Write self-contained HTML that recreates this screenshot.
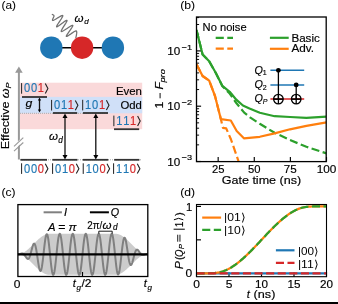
<!DOCTYPE html><html><head><meta charset="utf-8"><style>html,body{margin:0;padding:0;background:#fff;overflow:hidden}svg{display:block}</style></head><body><svg width="338" height="304" viewBox="0 0 338 304" font-family="Liberation Sans, sans-serif" style="will-change:transform">
<style>text{stroke-width:0.16px}</style>
<rect x="0" y="0" width="338" height="304" fill="#fff"/>
<rect x="0" y="302" width="338" height="2" fill="#000"/>
<text x="1.5" y="8.6" font-size="10.8" text-anchor="start" fill="#000" stroke="#000" textLength="14.5" lengthAdjust="spacingAndGlyphs" style=";stroke-width:0.05px" >(a)</text>
<path d="M51.90,14.30 L52.01,14.37 L52.17,14.44 L52.35,14.52 L52.56,14.60 L52.79,14.70 L53.02,14.81 L53.25,14.94 L53.46,15.09 L53.65,15.25 L53.81,15.44 L53.93,15.66 L54.00,15.90 L53.99,16.21 L53.87,16.60 L53.69,17.06 L53.46,17.56 L53.21,18.09 L52.96,18.61 L52.74,19.10 L52.57,19.56 L52.48,19.95 L52.48,20.25 L52.62,20.44 L52.90,20.50 L53.39,20.37 L54.10,20.05 L54.98,19.57 L55.98,18.97 L57.06,18.32 L58.17,17.64 L59.26,16.98 L60.29,16.39 L61.20,15.92 L61.95,15.59 L62.50,15.47 L62.80,15.60 L62.79,16.03 L62.51,16.74 L61.99,17.68 L61.31,18.80 L60.52,20.02 L59.67,21.30 L58.82,22.57 L58.03,23.78 L57.36,24.87 L56.86,25.77 L56.59,26.44 L56.60,26.80 L56.94,26.82 L57.56,26.54 L58.41,26.00 L59.43,25.29 L60.57,24.45 L61.77,23.55 L62.97,22.65 L64.11,21.81 L65.14,21.10 L66.01,20.56 L66.64,20.28 L67.00,20.30 L67.03,20.67 L66.78,21.34 L66.30,22.26 L65.66,23.37 L64.90,24.59 L64.08,25.88 L63.27,27.17 L62.52,28.40 L61.89,29.51 L61.44,30.44 L61.22,31.12 L61.30,31.50 L61.71,31.54 L62.43,31.27 L63.39,30.77 L64.53,30.08 L65.78,29.27 L67.10,28.41 L68.41,27.54 L69.66,26.73 L70.79,26.04 L71.73,25.53 L72.42,25.27 L72.80,25.30 L72.84,25.67 L72.57,26.34 L72.06,27.25 L71.36,28.33 L70.54,29.54 L69.66,30.81 L68.76,32.08 L67.93,33.29 L67.20,34.39 L66.65,35.31 L66.33,36.00 L66.30,36.40 L66.58,36.48 L67.11,36.30 L67.84,35.89 L68.73,35.32 L69.74,34.64 L70.81,33.89 L71.91,33.12 L72.98,32.40 L73.98,31.76 L74.86,31.27 L75.59,30.96 L76.10,30.90 L76.43,31.08 L76.63,31.46 L76.73,32.00 L76.74,32.66 L76.68,33.40 L76.56,34.21 L76.42,35.03 L76.25,35.83 L76.09,36.59 L75.95,37.26 L75.85,37.81 L75.80,38.20" fill="none" stroke="#707070" stroke-width="1.25" stroke-linejoin="round" />
<text x="74.5" y="21.6" font-size="11" text-anchor="start" fill="#000" stroke="#000" textLength="9" lengthAdjust="spacingAndGlyphs" style="font-style:italic" >ω</text>
<text x="84.3" y="23.6" font-size="8" text-anchor="start" fill="#000" stroke="#000" style="font-style:italic" >d</text>
<line x1="51.3" y1="47.7" x2="112.9" y2="47.7" stroke="#000" stroke-width="1.5" />
<circle cx="51.3" cy="47.7" r="11.2" fill="#1f77b4"/>
<circle cx="82.1" cy="47.7" r="11.2" fill="#d62728"/>
<circle cx="112.9" cy="47.7" r="11.2" fill="#1f77b4"/>
<rect x="20" y="82.7" width="122.2" height="46.5" fill="#fad9da"/>
<rect x="20" y="96.9" width="122.2" height="16.4" fill="#d0e0f8"/>
<line x1="20" y1="113.3" x2="108" y2="113.3" stroke="#aaa" stroke-width="1" stroke-dasharray="1,1"/>
<line x1="20" y1="159.8" x2="142" y2="159.8" stroke="#aaa" stroke-width="1" stroke-dasharray="1,1"/>
<line x1="18.9" y1="159.5" x2="18.9" y2="72" stroke="#999" stroke-width="2.0" />
<path d="M15.1,72.8 L18.9,66.6 L22.7,72.8 Z" fill="#999"/>
<path d="M12,146.5 L24,136 L24,141 L12,151.5 Z" fill="#fff"/>
<line x1="14" y1="146.3" x2="23.3" y2="137.6" stroke="#999" stroke-width="1.1" />
<line x1="14" y1="151.2" x2="23.3" y2="142.5" stroke="#999" stroke-width="1.1" />
<line x1="22" y1="97" x2="47" y2="97" stroke="#333" stroke-width="1.8" />
<line x1="53" y1="113" x2="77.2" y2="113" stroke="#333" stroke-width="1.8" />
<line x1="83" y1="113" x2="108" y2="113" stroke="#333" stroke-width="1.8" />
<line x1="114" y1="129.2" x2="139.2" y2="129.2" stroke="#333" stroke-width="1.8" />
<line x1="20.5" y1="159.8" x2="47" y2="159.8" stroke="#333" stroke-width="1.8" />
<line x1="52.4" y1="159.8" x2="77.5" y2="159.8" stroke="#333" stroke-width="1.8" />
<line x1="82.7" y1="159.8" x2="108.3" y2="159.8" stroke="#333" stroke-width="1.8" />
<line x1="114.2" y1="159.8" x2="139.4" y2="159.8" stroke="#333" stroke-width="1.8" />
<line x1="39.5" y1="99.39999999999999" x2="39.5" y2="110.8" stroke="#111" stroke-width="1.3" />
<path d="M37.9,100.6 L39.5,97.6 L41.1,100.6 Z" fill="#000"/>
<path d="M37.9,109.6 L39.5,112.6 L41.1,109.6 Z" fill="#000"/>
<line x1="65" y1="116.17999999999999" x2="65" y2="156.82" stroke="#111" stroke-width="1.3" />
<path d="M62.5,117.89999999999999 L65,113.6 L67.5,117.89999999999999 Z" fill="#000"/>
<path d="M62.5,155.1 L65,159.4 L67.5,155.1 Z" fill="#000"/>
<line x1="95.8" y1="116.17999999999999" x2="95.8" y2="156.82" stroke="#111" stroke-width="1.3" />
<path d="M93.3,117.89999999999999 L95.8,113.6 L98.3,117.89999999999999 Z" fill="#000"/>
<path d="M93.3,155.1 L95.8,159.4 L98.3,155.1 Z" fill="#000"/>
<text x="25.6" y="107.3" font-size="11.5" text-anchor="start" fill="#000" stroke="#000" textLength="6.8" lengthAdjust="spacingAndGlyphs" style="font-style:italic" >g</text>
<text x="49" y="140.3" font-size="11" text-anchor="start" fill="#000" stroke="#000" textLength="9" lengthAdjust="spacingAndGlyphs" style="font-style:italic" >ω</text>
<text x="58.3" y="142.6" font-size="8.2" text-anchor="start" fill="#000" stroke="#000" style="font-style:italic" >d</text>
<rect x="21.0" y="83.10000000000001" width="1.1" height="10.6" fill="#333"/>
<text x="24.0" y="92.4" font-size="11.9" fill="#1f77b4" stroke="#1f77b4" textLength="6.2" lengthAdjust="spacingAndGlyphs">0</text>
<text x="30.9" y="92.4" font-size="11.9" fill="#1f77b4" stroke="#1f77b4" textLength="6.2" lengthAdjust="spacingAndGlyphs">0</text>
<text x="37.8" y="92.4" font-size="11.9" fill="#d62728" stroke="#d62728" textLength="6.2" lengthAdjust="spacingAndGlyphs">1</text>
<path d="M45.30,83.60 L47.90,88.50 L45.30,93.40" fill="none" stroke="#222" stroke-width="1.1"/>
<rect x="51.0" y="99.9" width="1.1" height="10.6" fill="#333"/>
<text x="54.0" y="109.2" font-size="11.9" fill="#1f77b4" stroke="#1f77b4" textLength="6.2" lengthAdjust="spacingAndGlyphs">0</text>
<text x="60.9" y="109.2" font-size="11.9" fill="#1f77b4" stroke="#1f77b4" textLength="6.2" lengthAdjust="spacingAndGlyphs">1</text>
<text x="67.8" y="109.2" font-size="11.9" fill="#d62728" stroke="#d62728" textLength="6.2" lengthAdjust="spacingAndGlyphs">1</text>
<path d="M75.30,100.40 L77.90,105.30 L75.30,110.20" fill="none" stroke="#222" stroke-width="1.1"/>
<rect x="82.1" y="99.8" width="1.1" height="10.6" fill="#333"/>
<text x="85.1" y="109.1" font-size="11.9" fill="#1f77b4" stroke="#1f77b4" textLength="6.2" lengthAdjust="spacingAndGlyphs">1</text>
<text x="92.0" y="109.1" font-size="11.9" fill="#1f77b4" stroke="#1f77b4" textLength="6.2" lengthAdjust="spacingAndGlyphs">0</text>
<text x="98.89999999999999" y="109.1" font-size="11.9" fill="#d62728" stroke="#d62728" textLength="6.2" lengthAdjust="spacingAndGlyphs">1</text>
<path d="M106.40,100.30 L109.00,105.20 L106.40,110.10" fill="none" stroke="#222" stroke-width="1.1"/>
<rect x="113.3" y="115.60000000000001" width="1.1" height="10.6" fill="#333"/>
<text x="116.3" y="124.9" font-size="11.9" fill="#1f77b4" stroke="#1f77b4" textLength="6.2" lengthAdjust="spacingAndGlyphs">1</text>
<text x="123.2" y="124.9" font-size="11.9" fill="#1f77b4" stroke="#1f77b4" textLength="6.2" lengthAdjust="spacingAndGlyphs">1</text>
<text x="130.1" y="124.9" font-size="11.9" fill="#d62728" stroke="#d62728" textLength="6.2" lengthAdjust="spacingAndGlyphs">1</text>
<path d="M137.60,116.10 L140.20,121.00 L137.60,125.90" fill="none" stroke="#222" stroke-width="1.1"/>
<rect x="21.0" y="163.29999999999998" width="1.1" height="10.6" fill="#333"/>
<text x="24.0" y="172.6" font-size="11.9" fill="#1f77b4" stroke="#1f77b4" textLength="6.2" lengthAdjust="spacingAndGlyphs">0</text>
<text x="30.9" y="172.6" font-size="11.9" fill="#1f77b4" stroke="#1f77b4" textLength="6.2" lengthAdjust="spacingAndGlyphs">0</text>
<text x="37.8" y="172.6" font-size="11.9" fill="#d62728" stroke="#d62728" textLength="6.2" lengthAdjust="spacingAndGlyphs">0</text>
<path d="M45.30,163.80 L47.90,168.70 L45.30,173.60" fill="none" stroke="#222" stroke-width="1.1"/>
<rect x="52.0" y="163.29999999999998" width="1.1" height="10.6" fill="#333"/>
<text x="55.0" y="172.6" font-size="11.9" fill="#1f77b4" stroke="#1f77b4" textLength="6.2" lengthAdjust="spacingAndGlyphs">0</text>
<text x="61.9" y="172.6" font-size="11.9" fill="#1f77b4" stroke="#1f77b4" textLength="6.2" lengthAdjust="spacingAndGlyphs">1</text>
<text x="68.8" y="172.6" font-size="11.9" fill="#d62728" stroke="#d62728" textLength="6.2" lengthAdjust="spacingAndGlyphs">0</text>
<path d="M76.30,163.80 L78.90,168.70 L76.30,173.60" fill="none" stroke="#222" stroke-width="1.1"/>
<rect x="82.7" y="163.29999999999998" width="1.1" height="10.6" fill="#333"/>
<text x="85.7" y="172.6" font-size="11.9" fill="#1f77b4" stroke="#1f77b4" textLength="6.2" lengthAdjust="spacingAndGlyphs">1</text>
<text x="92.60000000000001" y="172.6" font-size="11.9" fill="#1f77b4" stroke="#1f77b4" textLength="6.2" lengthAdjust="spacingAndGlyphs">0</text>
<text x="99.5" y="172.6" font-size="11.9" fill="#d62728" stroke="#d62728" textLength="6.2" lengthAdjust="spacingAndGlyphs">0</text>
<path d="M107.00,163.80 L109.60,168.70 L107.00,173.60" fill="none" stroke="#222" stroke-width="1.1"/>
<rect x="113.0" y="163.29999999999998" width="1.1" height="10.6" fill="#333"/>
<text x="116.0" y="172.6" font-size="11.9" fill="#1f77b4" stroke="#1f77b4" textLength="6.2" lengthAdjust="spacingAndGlyphs">1</text>
<text x="122.9" y="172.6" font-size="11.9" fill="#1f77b4" stroke="#1f77b4" textLength="6.2" lengthAdjust="spacingAndGlyphs">1</text>
<text x="129.8" y="172.6" font-size="11.9" fill="#d62728" stroke="#d62728" textLength="6.2" lengthAdjust="spacingAndGlyphs">0</text>
<path d="M137.30,163.80 L139.90,168.70 L137.30,173.60" fill="none" stroke="#222" stroke-width="1.1"/>
<text x="141.9" y="95" font-size="11.2" text-anchor="end" fill="#000" stroke="#000" textLength="26" lengthAdjust="spacingAndGlyphs" style="" >Even</text>
<text x="141.9" y="109.4" font-size="11.2" text-anchor="end" fill="#000" stroke="#000" textLength="21.4" lengthAdjust="spacingAndGlyphs" style="" >Odd</text>
<g transform="translate(9.2,149.3) rotate(-90)">
<text x="0" y="0" font-size="11.2" fill="#000" stroke="#000" textLength="66.8" lengthAdjust="spacingAndGlyphs">Effective <tspan style="font-style:italic">ω</tspan><tspan font-size="8" dy="2" style="font-style:italic">P</tspan></text>
</g>
<text x="180.2" y="8.9" font-size="10.8" text-anchor="start" fill="#000" stroke="#000" textLength="14.9" lengthAdjust="spacingAndGlyphs" style=";stroke-width:0.05px" >(b)</text>
<line x1="196.5" y1="161.5" x2="201.1" y2="161.5" stroke="#000" stroke-width="1.15" />
<line x1="196.5" y1="144.85304123978185" x2="199.1" y2="144.85304123978185" stroke="#000" stroke-width="0.95" />
<line x1="196.5" y1="135.11519461400266" x2="199.1" y2="135.11519461400266" stroke="#000" stroke-width="0.95" />
<line x1="196.5" y1="128.2060824795637" x2="199.1" y2="128.2060824795637" stroke="#000" stroke-width="0.95" />
<line x1="196.5" y1="122.84695876021817" x2="199.1" y2="122.84695876021817" stroke="#000" stroke-width="0.95" />
<line x1="196.5" y1="118.4682358537845" x2="199.1" y2="118.4682358537845" stroke="#000" stroke-width="0.95" />
<line x1="196.5" y1="114.76607838721159" x2="199.1" y2="114.76607838721159" stroke="#000" stroke-width="0.95" />
<line x1="196.5" y1="111.55912371934551" x2="199.1" y2="111.55912371934551" stroke="#000" stroke-width="0.95" />
<line x1="196.5" y1="108.73038922800535" x2="199.1" y2="108.73038922800535" stroke="#000" stroke-width="0.95" />
<line x1="196.5" y1="106.2" x2="201.1" y2="106.2" stroke="#000" stroke-width="1.15" />
<line x1="196.5" y1="89.55304123978183" x2="199.1" y2="89.55304123978183" stroke="#000" stroke-width="0.95" />
<line x1="196.5" y1="79.81519461400268" x2="199.1" y2="79.81519461400268" stroke="#000" stroke-width="0.95" />
<line x1="196.5" y1="72.90608247956368" x2="199.1" y2="72.90608247956368" stroke="#000" stroke-width="0.95" />
<line x1="196.5" y1="67.54695876021817" x2="199.1" y2="67.54695876021817" stroke="#000" stroke-width="0.95" />
<line x1="196.5" y1="63.16823585378451" x2="199.1" y2="63.16823585378451" stroke="#000" stroke-width="0.95" />
<line x1="196.5" y1="59.466078387211596" x2="199.1" y2="59.466078387211596" stroke="#000" stroke-width="0.95" />
<line x1="196.5" y1="56.259123719345524" x2="199.1" y2="56.259123719345524" stroke="#000" stroke-width="0.95" />
<line x1="196.5" y1="53.43038922800535" x2="199.1" y2="53.43038922800535" stroke="#000" stroke-width="0.95" />
<line x1="196.5" y1="50.900000000000006" x2="201.1" y2="50.900000000000006" stroke="#000" stroke-width="1.15" />
<line x1="196.5" y1="34.25304123978184" x2="199.1" y2="34.25304123978184" stroke="#000" stroke-width="0.95" />
<line x1="196.5" y1="24.515194614002667" x2="199.1" y2="24.515194614002667" stroke="#000" stroke-width="0.95" />
<line x1="196.5" y1="17.606082479563668" x2="199.1" y2="17.606082479563668" stroke="#000" stroke-width="0.95" />
<line x1="218.16666666666666" y1="161.6" x2="218.16666666666666" y2="157.1" stroke="#000" stroke-width="1.15" />
<line x1="254.27777777777777" y1="161.6" x2="254.27777777777777" y2="157.1" stroke="#000" stroke-width="1.15" />
<line x1="290.3888888888889" y1="161.6" x2="290.3888888888889" y2="157.1" stroke="#000" stroke-width="1.15" />
<line x1="326.5" y1="161.6" x2="326.5" y2="157.1" stroke="#000" stroke-width="1.15" />
<text x="167.3" y="54.900000000000006" font-size="11.2" text-anchor="start" fill="#000" stroke="#000" textLength="13" lengthAdjust="spacingAndGlyphs" style="" >10</text>
<text x="181.8" y="49.7" font-size="8" text-anchor="start" fill="#000" stroke="#000" textLength="10.4" lengthAdjust="spacingAndGlyphs" style="" >−1</text>
<text x="167.3" y="110.2" font-size="11.2" text-anchor="start" fill="#000" stroke="#000" textLength="13" lengthAdjust="spacingAndGlyphs" style="" >10</text>
<text x="181.8" y="105.0" font-size="8" text-anchor="start" fill="#000" stroke="#000" textLength="10.4" lengthAdjust="spacingAndGlyphs" style="" >−2</text>
<text x="167.3" y="165.5" font-size="11.2" text-anchor="start" fill="#000" stroke="#000" textLength="13" lengthAdjust="spacingAndGlyphs" style="" >10</text>
<text x="181.8" y="160.3" font-size="8" text-anchor="start" fill="#000" stroke="#000" textLength="10.4" lengthAdjust="spacingAndGlyphs" style="" >−3</text>
<text x="218.16666666666666" y="173.3" font-size="11.2" text-anchor="middle" fill="#000" stroke="#000" textLength="12.5" lengthAdjust="spacingAndGlyphs" style="" >25</text>
<text x="254.27777777777777" y="173.3" font-size="11.2" text-anchor="middle" fill="#000" stroke="#000" textLength="12.5" lengthAdjust="spacingAndGlyphs" style="" >50</text>
<text x="290.3888888888889" y="173.3" font-size="11.2" text-anchor="middle" fill="#000" stroke="#000" textLength="13" lengthAdjust="spacingAndGlyphs" style="" >75</text>
<text x="326.5" y="173.3" font-size="11.2" text-anchor="middle" fill="#000" stroke="#000" textLength="19.7" lengthAdjust="spacingAndGlyphs" style="" >100</text>
<text x="221.7" y="184" font-size="11.2" text-anchor="start" fill="#000" stroke="#000" textLength="79.5" lengthAdjust="spacingAndGlyphs" style="" >Gate time (ns)</text>
<g transform="translate(163.2,108.2) rotate(-90)">
<text x="-0.3" y="0" font-size="11.2" text-anchor="start" fill="#000" stroke="#000" textLength="6.8" lengthAdjust="spacingAndGlyphs" style="" >1</text>
<rect x="9.9" y="-3.6" width="5.3" height="0.95" fill="#000"/>
<text x="18.6" y="0" font-size="11.2" text-anchor="start" fill="#000" stroke="#000" textLength="7.4" lengthAdjust="spacingAndGlyphs" style="font-style:italic" >F</text>
<text x="25.6" y="1.5" font-size="7.6" text-anchor="start" fill="#000" stroke="#000" textLength="13.6" lengthAdjust="spacingAndGlyphs" style="font-style:italic" >pro</text>
</g>
<clipPath id="cb"><rect x="196.5" y="17" width="129.7" height="144.6"/></clipPath>
<g clip-path="url(#cb)">
<path d="M196.50,30.00 L202.60,54.50 L209.20,61.30 L215.70,72.80 L222.40,86.20 L229.70,93.60 L236.30,103.00 L244.20,112.60 L250.00,117.30 L259.80,123.80 L274.60,132.80 L290.00,140.00 L306.40,146.80 L326.50,153.40" fill="none" stroke="#2ca02c" stroke-width="2.2" stroke-linejoin="round" stroke-dasharray="8.1,3.5"/>
<path d="M196.50,64.20 L202.60,76.00 L209.20,80.70 L215.00,96.00 L220.90,119.20 L222.90,127.80 L226.20,128.40 L231.00,139.50 L238.60,161.50" fill="none" stroke="#ff7f0e" stroke-width="2.2" stroke-linejoin="round" stroke-dasharray="8.1,3.5"/>
<path d="M196.50,30.00 L202.60,54.50 L209.20,61.30 L215.70,72.80 L222.40,85.90 L229.70,91.80 L236.30,99.70 L242.90,105.50 L249.50,108.50 L259.80,112.80 L274.60,116.20 L290.00,117.00 L306.40,117.80 L326.50,116.60" fill="none" stroke="#2ca02c" stroke-width="2.2" stroke-linejoin="round" />
<path d="M196.50,64.20 L202.60,76.00 L209.20,80.70 L215.00,96.00 L220.90,119.20 L230.80,120.50 L236.70,131.00 L243.90,138.30 L254.50,137.30 L259.80,136.80 L274.60,133.40 L290.00,129.30 L306.40,125.80 L326.50,122.40" fill="none" stroke="#ff7f0e" stroke-width="2.2" stroke-linejoin="round" />
</g>
<rect x="196.5" y="17" width="129.7" height="144.6" fill="none" stroke="#000" stroke-width="1.3"/>
<text x="202.6" y="30.5" font-size="11.2" text-anchor="start" fill="#000" stroke="#000" textLength="44" lengthAdjust="spacingAndGlyphs" style="" >No noise</text>
<line x1="215.7" y1="37.9" x2="233" y2="37.9" stroke="#2ca02c" stroke-width="2.2" stroke-dasharray="8.1,3.5"/>
<line x1="215.7" y1="48.7" x2="233" y2="48.7" stroke="#ff7f0e" stroke-width="2.2" stroke-dasharray="8.1,3.5"/>
<line x1="269.9" y1="37.8" x2="288.7" y2="37.8" stroke="#2ca02c" stroke-width="2.2" />
<line x1="269.9" y1="48.8" x2="288.7" y2="48.8" stroke="#ff7f0e" stroke-width="2.2" />
<text x="291.4" y="41.9" font-size="11.2" text-anchor="start" fill="#000" stroke="#000" textLength="28.4" lengthAdjust="spacingAndGlyphs" style="" >Basic</text>
<text x="291.4" y="52.3" font-size="11.2" text-anchor="start" fill="#000" stroke="#000" textLength="22.6" lengthAdjust="spacingAndGlyphs" style="" >Adv.</text>
<line x1="270.4" y1="70.3" x2="304.2" y2="70.3" stroke="#1f77b4" stroke-width="1.5" />
<line x1="270.4" y1="84.9" x2="304.2" y2="84.9" stroke="#1f77b4" stroke-width="1.5" />
<line x1="270.4" y1="99.1" x2="304.2" y2="99.1" stroke="#d62728" stroke-width="1.5" />
<line x1="278.4" y1="70.3" x2="278.4" y2="99.1" stroke="#000" stroke-width="1.3" />
<line x1="296.2" y1="84.9" x2="296.2" y2="99.1" stroke="#000" stroke-width="1.3" />
<circle cx="278.4" cy="70.3" r="2.4" fill="#000"/>
<circle cx="296.2" cy="84.9" r="2.4" fill="#000"/>
<circle cx="278.4" cy="99.1" r="4.8" fill="none" stroke="#000" stroke-width="1.3"/>
<line x1="273.59999999999997" y1="99.1" x2="283.2" y2="99.1" stroke="#000" stroke-width="1.6" />
<line x1="278.4" y1="94.3" x2="278.4" y2="103.89999999999999" stroke="#000" stroke-width="1.3" />
<circle cx="296.2" cy="99.1" r="4.8" fill="none" stroke="#000" stroke-width="1.3"/>
<line x1="291.4" y1="99.1" x2="301.0" y2="99.1" stroke="#000" stroke-width="1.6" />
<line x1="296.2" y1="94.3" x2="296.2" y2="103.89999999999999" stroke="#000" stroke-width="1.3" />
<text x="254.4" y="73.6" font-size="11.2" text-anchor="start" fill="#000" stroke="#000" textLength="8.4" lengthAdjust="spacingAndGlyphs" style="font-style:italic" >Q</text>
<text x="262.7" y="74.89999999999999" font-size="7" text-anchor="start" fill="#000" stroke="#000" style="" >1</text>
<text x="254.4" y="88.3" font-size="11.2" text-anchor="start" fill="#000" stroke="#000" textLength="8.4" lengthAdjust="spacingAndGlyphs" style="font-style:italic" >Q</text>
<text x="262.7" y="89.6" font-size="7" text-anchor="start" fill="#000" stroke="#000" style="" >2</text>
<text x="254.4" y="102.4" font-size="11.2" text-anchor="start" fill="#000" stroke="#000" textLength="8.4" lengthAdjust="spacingAndGlyphs" style="font-style:italic" >Q</text>
<text x="262.7" y="103.7" font-size="7" text-anchor="start" fill="#000" stroke="#000" style="font-style:italic" >P</text>
<text x="1.5" y="196.2" font-size="10.8" text-anchor="start" fill="#000" stroke="#000" textLength="14" lengthAdjust="spacingAndGlyphs" style=";stroke-width:0.05px" >(c)</text>
<path d="M17.90,254.29 L18.15,254.28 L18.40,254.26 L18.65,254.23 L18.90,254.20 L19.15,254.17 L19.40,254.12 L19.65,254.07 L19.90,254.02 L20.15,253.96 L20.40,253.89 L20.65,253.81 L20.90,253.73 L21.15,253.65 L21.40,253.56 L21.65,253.46 L21.90,253.36 L22.15,253.25 L22.40,253.14 L22.65,253.02 L22.90,252.89 L23.15,252.76 L23.40,252.63 L23.65,252.49 L23.90,252.34 L24.15,252.19 L24.40,252.04 L24.65,251.88 L24.90,251.71 L25.15,251.54 L25.40,251.37 L25.65,251.19 L25.90,251.01 L26.15,250.82 L26.40,250.63 L26.65,250.44 L26.90,250.24 L27.15,250.03 L27.40,249.83 L27.65,249.62 L27.90,249.41 L28.15,249.19 L28.40,248.97 L28.65,248.75 L28.90,248.52 L29.15,248.30 L29.40,248.07 L29.65,247.83 L29.90,247.60 L30.15,247.36 L30.40,247.12 L30.65,246.88 L30.90,246.64 L31.15,246.39 L31.40,246.15 L31.65,245.90 L31.90,245.65 L32.15,245.40 L32.40,245.15 L32.65,244.90 L32.90,244.65 L33.15,244.40 L33.40,244.15 L33.65,243.90 L33.90,243.65 L34.15,243.40 L34.40,243.15 L34.65,242.90 L34.90,242.65 L35.15,242.40 L35.40,242.15 L35.65,241.90 L35.90,241.66 L36.15,241.41 L36.40,241.17 L36.65,240.93 L36.90,240.69 L37.15,240.46 L37.40,240.22 L37.65,239.99 L37.90,239.76 L38.15,239.53 L38.40,239.31 L38.65,239.09 L38.90,238.87 L39.15,238.65 L39.40,238.44 L39.65,238.23 L39.90,238.03 L40.15,237.82 L40.40,237.63 L40.65,237.43 L40.90,237.24 L41.15,237.06 L41.40,236.87 L41.65,236.70 L41.90,236.52 L42.15,236.35 L42.40,236.19 L42.65,236.03 L42.90,235.88 L43.15,235.73 L43.40,235.58 L43.65,235.44 L43.90,235.31 L44.15,235.18 L44.40,235.06 L44.65,234.94 L44.90,234.83 L45.15,234.72 L45.40,234.62 L45.65,234.52 L45.90,234.43 L46.15,234.35 L46.40,234.27 L46.65,234.20 L46.90,234.13 L47.15,234.07 L47.40,234.02 L47.65,233.97 L47.90,233.93 L48.15,233.89 L48.40,233.86 L48.65,233.84 L48.90,233.82 L49.15,233.81 L49.40,233.80 L49.65,233.80 L49.90,233.80 L50.15,233.80 L50.40,233.80 L50.65,233.80 L50.90,233.80 L51.15,233.80 L51.40,233.80 L51.65,233.80 L51.90,233.80 L52.15,233.80 L52.40,233.80 L52.65,233.80 L52.90,233.80 L53.15,233.80 L53.40,233.80 L53.65,233.80 L53.90,233.80 L54.15,233.80 L54.40,233.80 L54.65,233.80 L54.90,233.80 L55.15,233.80 L55.40,233.80 L55.65,233.80 L55.90,233.80 L56.15,233.80 L56.40,233.80 L56.65,233.80 L56.90,233.80 L57.15,233.80 L57.40,233.80 L57.65,233.80 L57.90,233.80 L58.15,233.80 L58.40,233.80 L58.65,233.80 L58.90,233.80 L59.15,233.80 L59.40,233.80 L59.65,233.80 L59.90,233.80 L60.15,233.80 L60.40,233.80 L60.65,233.80 L60.90,233.80 L61.15,233.80 L61.40,233.80 L61.65,233.80 L61.90,233.80 L62.15,233.80 L62.40,233.80 L62.65,233.80 L62.90,233.80 L63.15,233.80 L63.40,233.80 L63.65,233.80 L63.90,233.80 L64.15,233.80 L64.40,233.80 L64.65,233.80 L64.90,233.80 L65.15,233.80 L65.40,233.80 L65.65,233.80 L65.90,233.80 L66.15,233.80 L66.40,233.80 L66.65,233.80 L66.90,233.80 L67.15,233.80 L67.40,233.80 L67.65,233.80 L67.90,233.80 L68.15,233.80 L68.40,233.80 L68.65,233.80 L68.90,233.80 L69.15,233.80 L69.40,233.80 L69.65,233.80 L69.90,233.80 L70.15,233.80 L70.40,233.80 L70.65,233.80 L70.90,233.80 L71.15,233.80 L71.40,233.80 L71.65,233.80 L71.90,233.80 L72.15,233.80 L72.40,233.80 L72.65,233.80 L72.90,233.80 L73.15,233.80 L73.40,233.80 L73.65,233.80 L73.90,233.80 L74.15,233.80 L74.40,233.80 L74.65,233.80 L74.90,233.80 L75.15,233.80 L75.40,233.80 L75.65,233.80 L75.90,233.80 L76.15,233.80 L76.40,233.80 L76.65,233.80 L76.90,233.80 L77.15,233.80 L77.40,233.80 L77.65,233.80 L77.90,233.80 L78.15,233.80 L78.40,233.80 L78.65,233.80 L78.90,233.80 L79.15,233.80 L79.40,233.80 L79.65,233.80 L79.90,233.80 L80.15,233.80 L80.40,233.80 L80.65,233.80 L80.90,233.80 L81.15,233.80 L81.40,233.80 L81.65,233.80 L81.90,233.80 L82.15,233.80 L82.40,233.80 L82.65,233.80 L82.90,233.80 L83.15,233.80 L83.40,233.80 L83.65,233.80 L83.90,233.80 L84.15,233.80 L84.40,233.80 L84.65,233.80 L84.90,233.80 L85.15,233.80 L85.40,233.80 L85.65,233.80 L85.90,233.80 L86.15,233.80 L86.40,233.80 L86.65,233.80 L86.90,233.80 L87.15,233.80 L87.40,233.80 L87.65,233.80 L87.90,233.80 L88.15,233.80 L88.40,233.80 L88.65,233.80 L88.90,233.80 L89.15,233.80 L89.40,233.80 L89.65,233.80 L89.90,233.80 L90.15,233.80 L90.40,233.80 L90.65,233.80 L90.90,233.80 L91.15,233.80 L91.40,233.80 L91.65,233.80 L91.90,233.80 L92.15,233.80 L92.40,233.80 L92.65,233.80 L92.90,233.80 L93.15,233.80 L93.40,233.80 L93.65,233.80 L93.90,233.80 L94.15,233.80 L94.40,233.80 L94.65,233.80 L94.90,233.80 L95.15,233.80 L95.40,233.80 L95.65,233.80 L95.90,233.80 L96.15,233.80 L96.40,233.80 L96.65,233.80 L96.90,233.80 L97.15,233.80 L97.40,233.80 L97.65,233.80 L97.90,233.80 L98.15,233.80 L98.40,233.80 L98.65,233.80 L98.90,233.80 L99.15,233.80 L99.40,233.80 L99.65,233.80 L99.90,233.80 L100.15,233.80 L100.40,233.80 L100.65,233.80 L100.90,233.80 L101.15,233.80 L101.40,233.80 L101.65,233.80 L101.90,233.80 L102.15,233.80 L102.40,233.80 L102.65,233.80 L102.90,233.80 L103.15,233.80 L103.40,233.80 L103.65,233.80 L103.90,233.80 L104.15,233.80 L104.40,233.80 L104.65,233.80 L104.90,233.80 L105.15,233.80 L105.40,233.80 L105.65,233.80 L105.90,233.80 L106.15,233.80 L106.40,233.80 L106.65,233.80 L106.90,233.80 L107.15,233.80 L107.40,233.80 L107.65,233.80 L107.90,233.80 L108.15,233.80 L108.40,233.80 L108.65,233.80 L108.90,233.80 L109.15,233.80 L109.40,233.80 L109.65,233.80 L109.90,233.80 L110.15,233.80 L110.40,233.80 L110.65,233.80 L110.90,233.80 L111.15,233.80 L111.40,233.80 L111.65,233.80 L111.90,233.80 L112.15,233.80 L112.40,233.80 L112.65,233.80 L112.90,233.80 L113.15,233.80 L113.40,233.80 L113.65,233.80 L113.90,233.80 L114.15,233.80 L114.40,233.80 L114.65,233.80 L114.90,233.80 L115.15,233.80 L115.40,233.80 L115.65,233.80 L115.90,233.81 L116.15,233.82 L116.40,233.84 L116.65,233.87 L116.90,233.90 L117.15,233.93 L117.40,233.98 L117.65,234.03 L117.90,234.08 L118.15,234.14 L118.40,234.21 L118.65,234.29 L118.90,234.37 L119.15,234.45 L119.40,234.54 L119.65,234.64 L119.90,234.74 L120.15,234.85 L120.40,234.96 L120.65,235.08 L120.90,235.21 L121.15,235.34 L121.40,235.47 L121.65,235.61 L121.90,235.76 L122.15,235.91 L122.40,236.06 L122.65,236.22 L122.90,236.39 L123.15,236.56 L123.40,236.73 L123.65,236.91 L123.90,237.09 L124.15,237.28 L124.40,237.47 L124.65,237.66 L124.90,237.86 L125.15,238.07 L125.40,238.27 L125.65,238.48 L125.90,238.69 L126.15,238.91 L126.40,239.13 L126.65,239.35 L126.90,239.58 L127.15,239.80 L127.40,240.03 L127.65,240.27 L127.90,240.50 L128.15,240.74 L128.40,240.98 L128.65,241.22 L128.90,241.46 L129.15,241.71 L129.40,241.95 L129.65,242.20 L129.90,242.45 L130.15,242.70 L130.40,242.95 L130.65,243.20 L130.90,243.45 L131.15,243.70 L131.40,243.95 L131.65,244.20 L131.90,244.45 L132.15,244.70 L132.40,244.95 L132.65,245.20 L132.90,245.45 L133.15,245.70 L133.40,245.95 L133.65,246.20 L133.90,246.44 L134.15,246.69 L134.40,246.93 L134.65,247.17 L134.90,247.41 L135.15,247.64 L135.40,247.88 L135.65,248.11 L135.90,248.34 L136.15,248.57 L136.40,248.79 L136.65,249.01 L136.90,249.23 L137.15,249.45 L137.40,249.66 L137.65,249.87 L137.90,250.07 L138.15,250.28 L138.40,250.47 L138.65,250.67 L138.90,250.86 L139.15,251.04 L139.40,251.23 L139.65,251.40 L139.90,251.58 L140.15,251.75 L140.40,251.91 L140.65,252.07 L140.90,252.22 L141.15,252.37 L141.40,252.52 L141.65,252.66 L141.90,252.79 L142.15,252.92 L142.40,253.04 L142.65,253.16 L142.90,253.27 L143.15,253.38 L143.40,253.48 L143.65,253.58 L143.90,253.67 L144.15,253.75 L144.40,253.83 L144.65,253.90 L144.90,253.97 L145.15,254.03 L145.40,254.08 L145.65,254.13 L145.90,254.17 L146.15,254.21 L146.40,254.24 L146.65,254.26 L146.90,254.28 L147.15,254.29 L147.40,254.30 L147.65,254.30 L147.65,254.30 L147.40,254.30 L147.15,254.31 L146.90,254.32 L146.65,254.34 L146.40,254.36 L146.15,254.39 L145.90,254.43 L145.65,254.47 L145.40,254.52 L145.15,254.57 L144.90,254.63 L144.65,254.70 L144.40,254.77 L144.15,254.85 L143.90,254.93 L143.65,255.02 L143.40,255.12 L143.15,255.22 L142.90,255.33 L142.65,255.44 L142.40,255.56 L142.15,255.68 L141.90,255.81 L141.65,255.94 L141.40,256.08 L141.15,256.23 L140.90,256.38 L140.65,256.53 L140.40,256.69 L140.15,256.85 L139.90,257.02 L139.65,257.20 L139.40,257.37 L139.15,257.56 L138.90,257.74 L138.65,257.93 L138.40,258.13 L138.15,258.32 L137.90,258.53 L137.65,258.73 L137.40,258.94 L137.15,259.15 L136.90,259.37 L136.65,259.59 L136.40,259.81 L136.15,260.03 L135.90,260.26 L135.65,260.49 L135.40,260.72 L135.15,260.96 L134.90,261.19 L134.65,261.43 L134.40,261.67 L134.15,261.91 L133.90,262.16 L133.65,262.40 L133.40,262.65 L133.15,262.90 L132.90,263.15 L132.65,263.40 L132.40,263.65 L132.15,263.90 L131.90,264.15 L131.65,264.40 L131.40,264.65 L131.15,264.90 L130.90,265.15 L130.65,265.40 L130.40,265.65 L130.15,265.90 L129.90,266.15 L129.65,266.40 L129.40,266.65 L129.15,266.89 L128.90,267.14 L128.65,267.38 L128.40,267.62 L128.15,267.86 L127.90,268.10 L127.65,268.33 L127.40,268.57 L127.15,268.80 L126.90,269.02 L126.65,269.25 L126.40,269.47 L126.15,269.69 L125.90,269.91 L125.65,270.12 L125.40,270.33 L125.15,270.53 L124.90,270.74 L124.65,270.94 L124.40,271.13 L124.15,271.32 L123.90,271.51 L123.65,271.69 L123.40,271.87 L123.15,272.04 L122.90,272.21 L122.65,272.38 L122.40,272.54 L122.15,272.69 L121.90,272.84 L121.65,272.99 L121.40,273.13 L121.15,273.26 L120.90,273.39 L120.65,273.52 L120.40,273.64 L120.15,273.75 L119.90,273.86 L119.65,273.96 L119.40,274.06 L119.15,274.15 L118.90,274.23 L118.65,274.31 L118.40,274.39 L118.15,274.46 L117.90,274.52 L117.65,274.57 L117.40,274.62 L117.15,274.67 L116.90,274.70 L116.65,274.73 L116.40,274.76 L116.15,274.78 L115.90,274.79 L115.65,274.80 L115.40,274.80 L115.15,274.80 L114.90,274.80 L114.65,274.80 L114.40,274.80 L114.15,274.80 L113.90,274.80 L113.65,274.80 L113.40,274.80 L113.15,274.80 L112.90,274.80 L112.65,274.80 L112.40,274.80 L112.15,274.80 L111.90,274.80 L111.65,274.80 L111.40,274.80 L111.15,274.80 L110.90,274.80 L110.65,274.80 L110.40,274.80 L110.15,274.80 L109.90,274.80 L109.65,274.80 L109.40,274.80 L109.15,274.80 L108.90,274.80 L108.65,274.80 L108.40,274.80 L108.15,274.80 L107.90,274.80 L107.65,274.80 L107.40,274.80 L107.15,274.80 L106.90,274.80 L106.65,274.80 L106.40,274.80 L106.15,274.80 L105.90,274.80 L105.65,274.80 L105.40,274.80 L105.15,274.80 L104.90,274.80 L104.65,274.80 L104.40,274.80 L104.15,274.80 L103.90,274.80 L103.65,274.80 L103.40,274.80 L103.15,274.80 L102.90,274.80 L102.65,274.80 L102.40,274.80 L102.15,274.80 L101.90,274.80 L101.65,274.80 L101.40,274.80 L101.15,274.80 L100.90,274.80 L100.65,274.80 L100.40,274.80 L100.15,274.80 L99.90,274.80 L99.65,274.80 L99.40,274.80 L99.15,274.80 L98.90,274.80 L98.65,274.80 L98.40,274.80 L98.15,274.80 L97.90,274.80 L97.65,274.80 L97.40,274.80 L97.15,274.80 L96.90,274.80 L96.65,274.80 L96.40,274.80 L96.15,274.80 L95.90,274.80 L95.65,274.80 L95.40,274.80 L95.15,274.80 L94.90,274.80 L94.65,274.80 L94.40,274.80 L94.15,274.80 L93.90,274.80 L93.65,274.80 L93.40,274.80 L93.15,274.80 L92.90,274.80 L92.65,274.80 L92.40,274.80 L92.15,274.80 L91.90,274.80 L91.65,274.80 L91.40,274.80 L91.15,274.80 L90.90,274.80 L90.65,274.80 L90.40,274.80 L90.15,274.80 L89.90,274.80 L89.65,274.80 L89.40,274.80 L89.15,274.80 L88.90,274.80 L88.65,274.80 L88.40,274.80 L88.15,274.80 L87.90,274.80 L87.65,274.80 L87.40,274.80 L87.15,274.80 L86.90,274.80 L86.65,274.80 L86.40,274.80 L86.15,274.80 L85.90,274.80 L85.65,274.80 L85.40,274.80 L85.15,274.80 L84.90,274.80 L84.65,274.80 L84.40,274.80 L84.15,274.80 L83.90,274.80 L83.65,274.80 L83.40,274.80 L83.15,274.80 L82.90,274.80 L82.65,274.80 L82.40,274.80 L82.15,274.80 L81.90,274.80 L81.65,274.80 L81.40,274.80 L81.15,274.80 L80.90,274.80 L80.65,274.80 L80.40,274.80 L80.15,274.80 L79.90,274.80 L79.65,274.80 L79.40,274.80 L79.15,274.80 L78.90,274.80 L78.65,274.80 L78.40,274.80 L78.15,274.80 L77.90,274.80 L77.65,274.80 L77.40,274.80 L77.15,274.80 L76.90,274.80 L76.65,274.80 L76.40,274.80 L76.15,274.80 L75.90,274.80 L75.65,274.80 L75.40,274.80 L75.15,274.80 L74.90,274.80 L74.65,274.80 L74.40,274.80 L74.15,274.80 L73.90,274.80 L73.65,274.80 L73.40,274.80 L73.15,274.80 L72.90,274.80 L72.65,274.80 L72.40,274.80 L72.15,274.80 L71.90,274.80 L71.65,274.80 L71.40,274.80 L71.15,274.80 L70.90,274.80 L70.65,274.80 L70.40,274.80 L70.15,274.80 L69.90,274.80 L69.65,274.80 L69.40,274.80 L69.15,274.80 L68.90,274.80 L68.65,274.80 L68.40,274.80 L68.15,274.80 L67.90,274.80 L67.65,274.80 L67.40,274.80 L67.15,274.80 L66.90,274.80 L66.65,274.80 L66.40,274.80 L66.15,274.80 L65.90,274.80 L65.65,274.80 L65.40,274.80 L65.15,274.80 L64.90,274.80 L64.65,274.80 L64.40,274.80 L64.15,274.80 L63.90,274.80 L63.65,274.80 L63.40,274.80 L63.15,274.80 L62.90,274.80 L62.65,274.80 L62.40,274.80 L62.15,274.80 L61.90,274.80 L61.65,274.80 L61.40,274.80 L61.15,274.80 L60.90,274.80 L60.65,274.80 L60.40,274.80 L60.15,274.80 L59.90,274.80 L59.65,274.80 L59.40,274.80 L59.15,274.80 L58.90,274.80 L58.65,274.80 L58.40,274.80 L58.15,274.80 L57.90,274.80 L57.65,274.80 L57.40,274.80 L57.15,274.80 L56.90,274.80 L56.65,274.80 L56.40,274.80 L56.15,274.80 L55.90,274.80 L55.65,274.80 L55.40,274.80 L55.15,274.80 L54.90,274.80 L54.65,274.80 L54.40,274.80 L54.15,274.80 L53.90,274.80 L53.65,274.80 L53.40,274.80 L53.15,274.80 L52.90,274.80 L52.65,274.80 L52.40,274.80 L52.15,274.80 L51.90,274.80 L51.65,274.80 L51.40,274.80 L51.15,274.80 L50.90,274.80 L50.65,274.80 L50.40,274.80 L50.15,274.80 L49.90,274.80 L49.65,274.80 L49.40,274.80 L49.15,274.79 L48.90,274.78 L48.65,274.76 L48.40,274.74 L48.15,274.71 L47.90,274.67 L47.65,274.63 L47.40,274.58 L47.15,274.53 L46.90,274.47 L46.65,274.40 L46.40,274.33 L46.15,274.25 L45.90,274.17 L45.65,274.08 L45.40,273.98 L45.15,273.88 L44.90,273.77 L44.65,273.66 L44.40,273.54 L44.15,273.42 L43.90,273.29 L43.65,273.16 L43.40,273.02 L43.15,272.87 L42.90,272.72 L42.65,272.57 L42.40,272.41 L42.15,272.25 L41.90,272.08 L41.65,271.90 L41.40,271.73 L41.15,271.54 L40.90,271.36 L40.65,271.17 L40.40,270.97 L40.15,270.78 L39.90,270.57 L39.65,270.37 L39.40,270.16 L39.15,269.95 L38.90,269.73 L38.65,269.51 L38.40,269.29 L38.15,269.07 L37.90,268.84 L37.65,268.61 L37.40,268.38 L37.15,268.14 L36.90,267.91 L36.65,267.67 L36.40,267.43 L36.15,267.19 L35.90,266.94 L35.65,266.70 L35.40,266.45 L35.15,266.20 L34.90,265.95 L34.65,265.70 L34.40,265.45 L34.15,265.20 L33.90,264.95 L33.65,264.70 L33.40,264.45 L33.15,264.20 L32.90,263.95 L32.65,263.70 L32.40,263.45 L32.15,263.20 L31.90,262.95 L31.65,262.70 L31.40,262.45 L31.15,262.21 L30.90,261.96 L30.65,261.72 L30.40,261.48 L30.15,261.24 L29.90,261.00 L29.65,260.77 L29.40,260.53 L29.15,260.30 L28.90,260.08 L28.65,259.85 L28.40,259.63 L28.15,259.41 L27.90,259.19 L27.65,258.98 L27.40,258.77 L27.15,258.57 L26.90,258.36 L26.65,258.16 L26.40,257.97 L26.15,257.78 L25.90,257.59 L25.65,257.41 L25.40,257.23 L25.15,257.06 L24.90,256.89 L24.65,256.72 L24.40,256.56 L24.15,256.41 L23.90,256.26 L23.65,256.11 L23.40,255.97 L23.15,255.84 L22.90,255.71 L22.65,255.58 L22.40,255.46 L22.15,255.35 L21.90,255.24 L21.65,255.14 L21.40,255.04 L21.15,254.95 L20.90,254.87 L20.65,254.79 L20.40,254.71 L20.15,254.64 L19.90,254.58 L19.65,254.53 L19.40,254.48 L19.15,254.43 L18.90,254.40 L18.65,254.37 L18.40,254.34 L18.15,254.32 L17.90,254.31Z" fill="#cccccc"/>
<path d="M17.90,254.30 L18.15,254.29 L18.40,254.28 L18.65,254.27 L18.90,254.24 L19.15,254.20 L19.40,254.16 L19.65,254.10 L19.90,254.04 L20.15,253.97 L20.40,253.89 L20.65,253.81 L20.90,253.74 L21.15,253.66 L21.40,253.59 L21.65,253.54 L21.90,253.50 L22.15,253.48 L22.40,253.49 L22.65,253.52 L22.90,253.59 L23.15,253.69 L23.40,253.82 L23.65,253.99 L23.90,254.21 L24.15,254.45 L24.40,254.73 L24.65,255.05 L24.90,255.39 L25.15,255.75 L25.40,256.14 L25.65,256.53 L25.90,256.92 L26.15,257.30 L26.40,257.66 L26.65,258.00 L26.90,258.31 L27.15,258.56 L27.40,258.76 L27.65,258.89 L27.90,258.95 L28.15,258.93 L28.40,258.83 L28.65,258.63 L28.90,258.34 L29.15,257.95 L29.40,257.46 L29.65,256.88 L29.90,256.22 L30.15,255.47 L30.40,254.65 L30.65,253.76 L30.90,252.83 L31.15,251.86 L31.40,250.86 L31.65,249.87 L31.90,248.89 L32.15,247.93 L32.40,247.03 L32.65,246.20 L32.90,245.46 L33.15,244.82 L33.40,244.30 L33.65,243.91 L33.90,243.68 L34.15,243.60 L34.40,243.69 L34.65,243.96 L34.90,244.40 L35.15,245.02 L35.40,245.81 L35.65,246.77 L35.90,247.89 L36.15,249.15 L36.40,250.55 L36.65,252.05 L36.90,253.64 L37.15,255.30 L37.40,257.01 L37.65,258.72 L37.90,260.43 L38.15,262.09 L38.40,263.69 L38.65,265.19 L38.90,266.56 L39.15,267.79 L39.40,268.84 L39.65,269.70 L39.90,270.34 L40.15,270.76 L40.40,270.93 L40.65,270.85 L40.90,270.52 L41.15,269.94 L41.40,269.10 L41.65,268.03 L41.90,266.72 L42.15,265.20 L42.40,263.48 L42.65,261.60 L42.90,259.57 L43.15,257.43 L43.40,255.20 L43.65,252.93 L43.90,250.65 L44.15,248.39 L44.40,246.19 L44.65,244.08 L44.90,242.11 L45.15,240.29 L45.40,238.66 L45.65,237.25 L45.90,236.09 L46.15,235.18 L46.40,234.56 L46.65,234.22 L46.90,234.19 L47.15,234.45 L47.40,235.01 L47.65,235.86 L47.90,236.99 L48.15,238.39 L48.40,240.02 L48.65,241.87 L48.90,243.92 L49.15,246.12 L49.40,248.44 L49.65,250.85 L49.90,253.31 L50.15,255.78 L50.40,258.24 L50.65,260.63 L50.90,262.94 L51.15,265.12 L51.40,267.14 L51.65,268.97 L51.90,270.59 L52.15,271.97 L52.40,273.09 L52.65,273.94 L52.90,274.51 L53.15,274.78 L53.40,274.75 L53.65,274.42 L53.90,273.80 L54.15,272.89 L54.40,271.71 L54.65,270.28 L54.90,268.62 L55.15,266.75 L55.40,264.69 L55.65,262.49 L55.90,260.16 L56.15,257.75 L56.40,255.29 L56.65,252.82 L56.90,250.36 L57.15,247.97 L57.40,245.66 L57.65,243.48 L57.90,241.46 L58.15,239.63 L58.40,238.01 L58.65,236.63 L58.90,235.51 L59.15,234.66 L59.40,234.09 L59.65,233.82 L59.90,233.85 L60.15,234.18 L60.40,234.80 L60.65,235.71 L60.90,236.89 L61.15,238.32 L61.40,239.98 L61.65,241.85 L61.90,243.91 L62.15,246.11 L62.40,248.44 L62.65,250.85 L62.90,253.31 L63.15,255.78 L63.40,258.24 L63.65,260.63 L63.90,262.94 L64.15,265.12 L64.40,267.14 L64.65,268.97 L64.90,270.59 L65.15,271.97 L65.40,273.09 L65.65,273.94 L65.90,274.51 L66.15,274.78 L66.40,274.75 L66.65,274.42 L66.90,273.80 L67.15,272.89 L67.40,271.71 L67.65,270.28 L67.90,268.62 L68.15,266.75 L68.40,264.69 L68.65,262.49 L68.90,260.16 L69.15,257.75 L69.40,255.29 L69.65,252.82 L69.90,250.36 L70.15,247.97 L70.40,245.66 L70.65,243.48 L70.90,241.46 L71.15,239.63 L71.40,238.01 L71.65,236.63 L71.90,235.51 L72.15,234.66 L72.40,234.09 L72.65,233.82 L72.90,233.85 L73.15,234.18 L73.40,234.80 L73.65,235.71 L73.90,236.89 L74.15,238.32 L74.40,239.98 L74.65,241.85 L74.90,243.91 L75.15,246.11 L75.40,248.44 L75.65,250.85 L75.90,253.31 L76.15,255.78 L76.40,258.24 L76.65,260.63 L76.90,262.94 L77.15,265.12 L77.40,267.14 L77.65,268.97 L77.90,270.59 L78.15,271.97 L78.40,273.09 L78.65,273.94 L78.90,274.51 L79.15,274.78 L79.40,274.75 L79.65,274.42 L79.90,273.80 L80.15,272.89 L80.40,271.71 L80.65,270.28 L80.90,268.62 L81.15,266.75 L81.40,264.69 L81.65,262.49 L81.90,260.16 L82.15,257.75 L82.40,255.29 L82.65,252.82 L82.90,250.36 L83.15,247.97 L83.40,245.66 L83.65,243.48 L83.90,241.46 L84.15,239.63 L84.40,238.01 L84.65,236.63 L84.90,235.51 L85.15,234.66 L85.40,234.09 L85.65,233.82 L85.90,233.85 L86.15,234.18 L86.40,234.80 L86.65,235.71 L86.90,236.89 L87.15,238.32 L87.40,239.98 L87.65,241.85 L87.90,243.91 L88.15,246.11 L88.40,248.44 L88.65,250.85 L88.90,253.31 L89.15,255.78 L89.40,258.24 L89.65,260.63 L89.90,262.94 L90.15,265.12 L90.40,267.14 L90.65,268.97 L90.90,270.59 L91.15,271.97 L91.40,273.09 L91.65,273.94 L91.90,274.51 L92.15,274.78 L92.40,274.75 L92.65,274.42 L92.90,273.80 L93.15,272.89 L93.40,271.71 L93.65,270.28 L93.90,268.62 L94.15,266.75 L94.40,264.69 L94.65,262.49 L94.90,260.16 L95.15,257.75 L95.40,255.29 L95.65,252.82 L95.90,250.36 L96.15,247.97 L96.40,245.66 L96.65,243.48 L96.90,241.46 L97.15,239.63 L97.40,238.01 L97.65,236.63 L97.90,235.51 L98.15,234.66 L98.40,234.09 L98.65,233.82 L98.90,233.85 L99.15,234.18 L99.40,234.80 L99.65,235.71 L99.90,236.89 L100.15,238.32 L100.40,239.98 L100.65,241.85 L100.90,243.91 L101.15,246.11 L101.40,248.44 L101.65,250.85 L101.90,253.31 L102.15,255.78 L102.40,258.24 L102.65,260.63 L102.90,262.94 L103.15,265.12 L103.40,267.14 L103.65,268.97 L103.90,270.59 L104.15,271.97 L104.40,273.09 L104.65,273.94 L104.90,274.51 L105.15,274.78 L105.40,274.75 L105.65,274.42 L105.90,273.80 L106.15,272.89 L106.40,271.71 L106.65,270.28 L106.90,268.62 L107.15,266.75 L107.40,264.69 L107.65,262.49 L107.90,260.16 L108.15,257.75 L108.40,255.29 L108.65,252.82 L108.90,250.36 L109.15,247.97 L109.40,245.66 L109.65,243.48 L109.90,241.46 L110.15,239.63 L110.40,238.01 L110.65,236.63 L110.90,235.51 L111.15,234.66 L111.40,234.09 L111.65,233.82 L111.90,233.85 L112.15,234.18 L112.40,234.80 L112.65,235.71 L112.90,236.89 L113.15,238.32 L113.40,239.98 L113.65,241.85 L113.90,243.91 L114.15,246.11 L114.40,248.44 L114.65,250.85 L114.90,253.31 L115.15,255.78 L115.40,258.24 L115.65,260.63 L115.90,262.94 L116.15,265.11 L116.40,267.11 L116.65,268.92 L116.90,270.51 L117.15,271.85 L117.40,272.93 L117.65,273.73 L117.90,274.23 L118.15,274.43 L118.40,274.33 L118.65,273.94 L118.90,273.26 L119.15,272.30 L119.40,271.08 L119.65,269.63 L119.90,267.96 L120.15,266.11 L120.40,264.10 L120.65,261.97 L120.90,259.76 L121.15,257.49 L121.40,255.21 L121.65,252.95 L121.90,250.74 L122.15,248.62 L122.40,246.61 L122.65,244.76 L122.90,243.08 L123.15,241.60 L123.40,240.34 L123.65,239.31 L123.90,238.52 L124.15,237.99 L124.40,237.71 L124.65,237.68 L124.90,237.91 L125.15,238.37 L125.40,239.06 L125.65,239.95 L125.90,241.04 L126.15,242.30 L126.40,243.70 L126.65,245.22 L126.90,246.84 L127.15,248.51 L127.40,250.22 L127.65,251.94 L127.90,253.63 L128.15,255.28 L128.40,256.86 L128.65,258.34 L128.90,259.71 L129.15,260.95 L129.40,262.03 L129.65,262.96 L129.90,263.72 L130.15,264.30 L130.40,264.71 L130.65,264.94 L130.90,265.00 L131.15,264.89 L131.40,264.62 L131.65,264.21 L131.90,263.67 L132.15,263.00 L132.40,262.24 L132.65,261.39 L132.90,260.48 L133.15,259.52 L133.40,258.53 L133.65,257.54 L133.90,256.55 L134.15,255.58 L134.40,254.66 L134.65,253.78 L134.90,252.98 L135.15,252.24 L135.40,251.59 L135.65,251.03 L135.90,250.57 L136.15,250.20 L136.40,249.92 L136.65,249.74 L136.90,249.65 L137.15,249.65 L137.40,249.73 L137.65,249.87 L137.90,250.09 L138.15,250.35 L138.40,250.66 L138.65,251.01 L138.90,251.38 L139.15,251.76 L139.40,252.15 L139.65,252.54 L139.90,252.92 L140.15,253.28 L140.40,253.62 L140.65,253.92 L140.90,254.20 L141.15,254.44 L141.40,254.64 L141.65,254.81 L141.90,254.94 L142.15,255.03 L142.40,255.09 L142.65,255.12 L142.90,255.12 L143.15,255.09 L143.40,255.05 L143.65,254.99 L143.90,254.92 L144.15,254.85 L144.40,254.77 L144.65,254.69 L144.90,254.62 L145.15,254.55 L145.40,254.48 L145.65,254.43 L145.90,254.39 L146.15,254.35 L146.40,254.33 L146.65,254.31 L146.90,254.31 L147.15,254.30 L147.40,254.30 L147.65,254.30" fill="none" stroke="#808080" stroke-width="2.0" stroke-linejoin="round" />
<line x1="17.9" y1="254.3" x2="147.8" y2="254.3" stroke="#000" stroke-width="2.2" />
<rect x="17.9" y="204.6" width="129.9" height="71.9" fill="none" stroke="#000" stroke-width="1.3"/>
<line x1="82.5" y1="276.5" x2="82.5" y2="272.0" stroke="#000" stroke-width="1.15" />
<line x1="43.6" y1="212.3" x2="61.9" y2="212.3" stroke="#808080" stroke-width="2.0" />
<text x="64" y="215.6" font-size="11.2" text-anchor="start" fill="#000" stroke="#000" style="font-style:italic" >I</text>
<line x1="89.9" y1="212.3" x2="108.9" y2="212.3" stroke="#000" stroke-width="2.0" />
<text x="110.8" y="215.8" font-size="11.2" text-anchor="start" fill="#000" stroke="#000" textLength="8.4" lengthAdjust="spacingAndGlyphs" style="font-style:italic" >Q</text>
<text x="48" y="231" font-size="11.2" text-anchor="start" fill="#000" stroke="#000" textLength="7.5" lengthAdjust="spacingAndGlyphs" style="font-style:italic" >A</text>
<text x="58.2" y="231" font-size="11.2" text-anchor="start" fill="#000" stroke="#000" textLength="7.2" lengthAdjust="spacingAndGlyphs" style="" >=</text>
<text x="68.6" y="231" font-size="11.2" text-anchor="start" fill="#000" stroke="#000" textLength="8" lengthAdjust="spacingAndGlyphs" style="font-style:italic" >π</text>
<text x="87.3" y="228.6" font-size="11.2" text-anchor="start" fill="#000" stroke="#000" textLength="15" lengthAdjust="spacingAndGlyphs" style="" >2π/</text>
<text x="102.5" y="228.6" font-size="11" text-anchor="start" fill="#000" stroke="#000" textLength="9" lengthAdjust="spacingAndGlyphs" style="font-style:italic" >ω</text>
<text x="113.1" y="229.8" font-size="8.2" text-anchor="start" fill="#000" stroke="#000" style="font-style:italic" >d</text>
<path d="M98.8,233.5 L98.8,231.2 L112.2,231.2 L112.2,233.5" fill="none" stroke="#000" stroke-width="0.9"/>
<text x="17" y="288" font-size="11.2" text-anchor="middle" fill="#000" stroke="#000" textLength="6.7" lengthAdjust="spacingAndGlyphs" style="" >0</text>
<text x="72.7" y="287.2" font-size="11.2" text-anchor="start" fill="#000" stroke="#000" style="font-style:italic" >t</text>
<text x="76.5" y="289.5" font-size="8" text-anchor="start" fill="#000" stroke="#000" style="font-style:italic" >g</text>
<text x="81.5" y="287.2" font-size="11.2" text-anchor="start" fill="#000" stroke="#000" textLength="10" lengthAdjust="spacingAndGlyphs" style="" >/2</text>
<text x="143.7" y="286.8" font-size="11.2" text-anchor="start" fill="#000" stroke="#000" style="font-style:italic" >t</text>
<text x="147.6" y="289.5" font-size="8" text-anchor="start" fill="#000" stroke="#000" style="font-style:italic" >g</text>
<text x="180.2" y="196.0" font-size="10.8" text-anchor="start" fill="#000" stroke="#000" textLength="14.8" lengthAdjust="spacingAndGlyphs" style=";stroke-width:0.05px" >(d)</text>
<line x1="196.5" y1="276.7" x2="196.5" y2="272.2" stroke="#000" stroke-width="1.15" />
<text x="196.5" y="288" font-size="11.2" text-anchor="middle" fill="#000" stroke="#000" textLength="6.7" lengthAdjust="spacingAndGlyphs" style="" >0</text>
<line x1="229.0" y1="276.7" x2="229.0" y2="272.2" stroke="#000" stroke-width="1.15" />
<text x="229.0" y="288" font-size="11.2" text-anchor="middle" fill="#000" stroke="#000" textLength="6.7" lengthAdjust="spacingAndGlyphs" style="" >5</text>
<line x1="261.5" y1="276.7" x2="261.5" y2="272.2" stroke="#000" stroke-width="1.15" />
<text x="261.5" y="288" font-size="11.2" text-anchor="middle" fill="#000" stroke="#000" textLength="13" lengthAdjust="spacingAndGlyphs" style="" >10</text>
<line x1="294.0" y1="276.7" x2="294.0" y2="272.2" stroke="#000" stroke-width="1.15" />
<text x="294.0" y="288" font-size="11.2" text-anchor="middle" fill="#000" stroke="#000" textLength="13" lengthAdjust="spacingAndGlyphs" style="" >15</text>
<line x1="326.5" y1="276.7" x2="326.5" y2="272.2" stroke="#000" stroke-width="1.15" />
<text x="326.5" y="288" font-size="11.2" text-anchor="middle" fill="#000" stroke="#000" textLength="13" lengthAdjust="spacingAndGlyphs" style="" >20</text>
<line x1="196.5" y1="273.3" x2="201.0" y2="273.3" stroke="#000" stroke-width="1.15" />
<line x1="196.5" y1="239.85000000000002" x2="201.0" y2="239.85000000000002" stroke="#000" stroke-width="1.15" />
<line x1="196.5" y1="206.4" x2="201.0" y2="206.4" stroke="#000" stroke-width="1.15" />
<text x="192.3" y="211.3" font-size="11.2" text-anchor="end" fill="#000" stroke="#000" style="" >1</text>
<text x="192.3" y="277" font-size="11.2" text-anchor="end" fill="#000" stroke="#000" textLength="6.7" lengthAdjust="spacingAndGlyphs" style="" >0</text>
<text x="246.7" y="298" font-size="11.2" text-anchor="start" fill="#000" stroke="#000" style="font-style:italic" >t</text>
<text x="253.6" y="298" font-size="11.2" text-anchor="start" fill="#000" stroke="#000" textLength="21.8" lengthAdjust="spacingAndGlyphs" style="" >(ns)</text>
<g transform="translate(182.5,268.7) rotate(-90)">
<text x="-0.5" y="0" font-size="11.2" text-anchor="start" fill="#000" stroke="#000" textLength="8.2" lengthAdjust="spacingAndGlyphs" style="font-style:italic" >P</text>
<text x="8.6" y="0" font-size="11.2" text-anchor="start" fill="#000" stroke="#000" textLength="3.6" lengthAdjust="spacingAndGlyphs" style="" >(</text>
<text x="11.8" y="0" font-size="11.2" text-anchor="start" fill="#000" stroke="#000" textLength="7.4" lengthAdjust="spacingAndGlyphs" style="font-style:italic" >Q</text>
<text x="19.4" y="1.6" font-size="7" text-anchor="start" fill="#000" stroke="#000" textLength="5.2" lengthAdjust="spacingAndGlyphs" style="font-style:italic" >P</text>
<rect x="27" y="-5.2" width="7" height="0.9" fill="#000"/>
<rect x="27" y="-3.0" width="7" height="0.9" fill="#000"/>
<rect x="39" y="-8.9" width="1.0" height="11.2" fill="#000"/>
<text x="41.5" y="0" font-size="11.2" text-anchor="start" fill="#000" stroke="#000" textLength="5.8" lengthAdjust="spacingAndGlyphs" style="" >1</text>
<path d="M48.9,-8.6 L50.4,-3.9 L48.9,0.8" fill="none" stroke="#000" stroke-width="1.0"/>
<text x="52.8" y="0" font-size="11.2" text-anchor="start" fill="#000" stroke="#000" textLength="3.8" lengthAdjust="spacingAndGlyphs" style="" >)</text>
</g>
<clipPath id="cd"><rect x="196.5" y="204.5" width="130.0" height="72.19999999999999"/></clipPath>
<g clip-path="url(#cd)">
<path d="M196.50,273.30 L326.50,273.30" fill="none" stroke="#1f77b4" stroke-width="2.2" stroke-linejoin="round" />
<path d="M196.50,273.30 L197.15,273.30 L197.80,273.30 L198.45,273.30 L199.10,273.30 L199.75,273.30 L200.40,273.30 L201.05,273.30 L201.70,273.30 L202.35,273.30 L203.00,273.30 L203.65,273.30 L204.30,273.30 L204.95,273.30 L205.60,273.29 L206.25,273.29 L206.90,273.29 L207.55,273.28 L208.20,273.27 L208.85,273.27 L209.50,273.25 L210.15,273.24 L210.80,273.22 L211.45,273.20 L212.10,273.17 L212.75,273.14 L213.40,273.10 L214.05,273.06 L214.70,273.00 L215.35,272.94 L216.00,272.87 L216.65,272.79 L217.30,272.70 L217.95,272.60 L218.60,272.49 L219.25,272.36 L219.90,272.22 L220.55,272.07 L221.20,271.90 L221.85,271.72 L222.50,271.52 L223.15,271.31 L223.80,271.08 L224.45,270.83 L225.10,270.57 L225.75,270.30 L226.40,270.01 L227.05,269.70 L227.70,269.38 L228.35,269.05 L229.00,268.70 L229.65,268.34 L230.30,267.97 L230.95,267.59 L231.60,267.20 L232.25,266.79 L232.90,266.37 L233.55,265.94 L234.20,265.50 L234.85,265.05 L235.50,264.58 L236.15,264.11 L236.80,263.63 L237.45,263.13 L238.10,262.63 L238.75,262.11 L239.40,261.59 L240.05,261.05 L240.70,260.51 L241.35,259.96 L242.00,259.40 L242.65,258.83 L243.30,258.25 L243.95,257.67 L244.60,257.07 L245.25,256.47 L245.90,255.87 L246.55,255.25 L247.20,254.63 L247.85,254.00 L248.50,253.37 L249.15,252.73 L249.80,252.09 L250.45,251.44 L251.10,250.78 L251.75,250.12 L252.40,249.46 L253.05,248.79 L253.70,248.11 L254.35,247.44 L255.00,246.76 L255.65,246.08 L256.30,245.39 L256.95,244.70 L257.60,244.01 L258.25,243.32 L258.90,242.63 L259.55,241.94 L260.20,241.24 L260.85,240.55 L261.50,239.85 L262.15,239.15 L262.80,238.46 L263.45,237.76 L264.10,237.07 L264.75,236.38 L265.40,235.69 L266.05,235.00 L266.70,234.31 L267.35,233.62 L268.00,232.94 L268.65,232.26 L269.30,231.59 L269.95,230.91 L270.60,230.24 L271.25,229.58 L271.90,228.92 L272.55,228.26 L273.20,227.61 L273.85,226.97 L274.50,226.33 L275.15,225.70 L275.80,225.07 L276.45,224.45 L277.10,223.83 L277.75,223.23 L278.40,222.63 L279.05,222.03 L279.70,221.45 L280.35,220.87 L281.00,220.30 L281.65,219.74 L282.30,219.19 L282.95,218.65 L283.60,218.11 L284.25,217.59 L284.90,217.07 L285.55,216.57 L286.20,216.07 L286.85,215.59 L287.50,215.12 L288.15,214.65 L288.80,214.20 L289.45,213.76 L290.10,213.33 L290.75,212.91 L291.40,212.50 L292.05,212.11 L292.70,211.73 L293.35,211.36 L294.00,211.00 L294.65,210.65 L295.30,210.32 L295.95,210.00 L296.60,209.69 L297.25,209.40 L297.90,209.13 L298.55,208.87 L299.20,208.62 L299.85,208.39 L300.50,208.18 L301.15,207.98 L301.80,207.80 L302.45,207.63 L303.10,207.48 L303.75,207.34 L304.40,207.21 L305.05,207.10 L305.70,207.00 L306.35,206.91 L307.00,206.83 L307.65,206.76 L308.30,206.70 L308.95,206.64 L309.60,206.60 L310.25,206.56 L310.90,206.53 L311.55,206.50 L312.20,206.48 L312.85,206.46 L313.50,206.45 L314.15,206.43 L314.80,206.43 L315.45,206.42 L316.10,206.41 L316.75,206.41 L317.40,206.41 L318.05,206.40 L318.70,206.40 L319.35,206.40 L320.00,206.40 L320.65,206.40 L321.30,206.40 L321.95,206.40 L322.60,206.40 L323.25,206.40 L323.90,206.40 L324.55,206.40 L325.20,206.40 L325.85,206.40 L326.50,206.40" fill="none" stroke="#ff7f0e" stroke-width="2.2" stroke-linejoin="round" />
<path d="M196.50,273.30 L197.15,273.30 L197.80,273.30 L198.45,273.30 L199.10,273.30 L199.75,273.30 L200.40,273.30 L201.05,273.30 L201.70,273.30 L202.35,273.30 L203.00,273.30 L203.65,273.30 L204.30,273.30 L204.95,273.30 L205.60,273.29 L206.25,273.29 L206.90,273.29 L207.55,273.28 L208.20,273.27 L208.85,273.27 L209.50,273.25 L210.15,273.24 L210.80,273.22 L211.45,273.20 L212.10,273.17 L212.75,273.14 L213.40,273.10 L214.05,273.06 L214.70,273.00 L215.35,272.94 L216.00,272.87 L216.65,272.79 L217.30,272.70 L217.95,272.60 L218.60,272.49 L219.25,272.36 L219.90,272.22 L220.55,272.07 L221.20,271.90 L221.85,271.72 L222.50,271.52 L223.15,271.31 L223.80,271.08 L224.45,270.83 L225.10,270.57 L225.75,270.30 L226.40,270.01 L227.05,269.70 L227.70,269.38 L228.35,269.05 L229.00,268.70 L229.65,268.34 L230.30,267.97 L230.95,267.59 L231.60,267.20 L232.25,266.79 L232.90,266.37 L233.55,265.94 L234.20,265.50 L234.85,265.05 L235.50,264.58 L236.15,264.11 L236.80,263.63 L237.45,263.13 L238.10,262.63 L238.75,262.11 L239.40,261.59 L240.05,261.05 L240.70,260.51 L241.35,259.96 L242.00,259.40 L242.65,258.83 L243.30,258.25 L243.95,257.67 L244.60,257.07 L245.25,256.47 L245.90,255.87 L246.55,255.25 L247.20,254.63 L247.85,254.00 L248.50,253.37 L249.15,252.73 L249.80,252.09 L250.45,251.44 L251.10,250.78 L251.75,250.12 L252.40,249.46 L253.05,248.79 L253.70,248.11 L254.35,247.44 L255.00,246.76 L255.65,246.08 L256.30,245.39 L256.95,244.70 L257.60,244.01 L258.25,243.32 L258.90,242.63 L259.55,241.94 L260.20,241.24 L260.85,240.55 L261.50,239.85 L262.15,239.15 L262.80,238.46 L263.45,237.76 L264.10,237.07 L264.75,236.38 L265.40,235.69 L266.05,235.00 L266.70,234.31 L267.35,233.62 L268.00,232.94 L268.65,232.26 L269.30,231.59 L269.95,230.91 L270.60,230.24 L271.25,229.58 L271.90,228.92 L272.55,228.26 L273.20,227.61 L273.85,226.97 L274.50,226.33 L275.15,225.70 L275.80,225.07 L276.45,224.45 L277.10,223.83 L277.75,223.23 L278.40,222.63 L279.05,222.03 L279.70,221.45 L280.35,220.87 L281.00,220.30 L281.65,219.74 L282.30,219.19 L282.95,218.65 L283.60,218.11 L284.25,217.59 L284.90,217.07 L285.55,216.57 L286.20,216.07 L286.85,215.59 L287.50,215.12 L288.15,214.65 L288.80,214.20 L289.45,213.76 L290.10,213.33 L290.75,212.91 L291.40,212.50 L292.05,212.11 L292.70,211.73 L293.35,211.36 L294.00,211.00 L294.65,210.65 L295.30,210.32 L295.95,210.00 L296.60,209.69 L297.25,209.40 L297.90,209.13 L298.55,208.87 L299.20,208.62 L299.85,208.39 L300.50,208.18 L301.15,207.98 L301.80,207.80 L302.45,207.63 L303.10,207.48 L303.75,207.34 L304.40,207.21 L305.05,207.10 L305.70,207.00 L306.35,206.91 L307.00,206.83 L307.65,206.76 L308.30,206.70 L308.95,206.64 L309.60,206.60 L310.25,206.56 L310.90,206.53 L311.55,206.50 L312.20,206.48 L312.85,206.46 L313.50,206.45 L314.15,206.43 L314.80,206.43 L315.45,206.42 L316.10,206.41 L316.75,206.41 L317.40,206.41 L318.05,206.40 L318.70,206.40 L319.35,206.40 L320.00,206.40 L320.65,206.40 L321.30,206.40 L321.95,206.40 L322.60,206.40 L323.25,206.40 L323.90,206.40 L324.55,206.40 L325.20,206.40 L325.85,206.40 L326.50,206.40" fill="none" stroke="#2ca02c" stroke-width="2.2" stroke-linejoin="round" stroke-dasharray="8.1,3.5"/>
<path d="M196.50,273.30 L326.50,273.30" fill="none" stroke="#d62728" stroke-width="2.2" stroke-linejoin="round" stroke-dasharray="8.1,3.5"/>
</g>
<rect x="196.5" y="204.5" width="130.0" height="72.19999999999999" fill="none" stroke="#000" stroke-width="1.1"/>
<line x1="202.2" y1="217.6" x2="221.1" y2="217.6" stroke="#ff7f0e" stroke-width="2.2" />
<line x1="202.2" y1="229.9" x2="221.1" y2="229.9" stroke="#2ca02c" stroke-width="2.2" stroke-dasharray="8.1,3.5"/>
<text x="224.1" y="221.3" font-size="11.2" textLength="21" lengthAdjust="spacingAndGlyphs">|01⟩</text>
<text x="224.1" y="234" font-size="11.2" textLength="21" lengthAdjust="spacingAndGlyphs">|10⟩</text>
<line x1="275.9" y1="250.3" x2="294.5" y2="250.3" stroke="#1f77b4" stroke-width="2.2" />
<line x1="275.9" y1="262.9" x2="294.5" y2="262.9" stroke="#d62728" stroke-width="2.2" stroke-dasharray="8.1,3.5"/>
<text x="297.9" y="255.2" font-size="11.2" textLength="20.3" lengthAdjust="spacingAndGlyphs">|00⟩</text>
<text x="297.9" y="267.5" font-size="11.2" textLength="20.3" lengthAdjust="spacingAndGlyphs">|11⟩</text>
</svg></body></html>
